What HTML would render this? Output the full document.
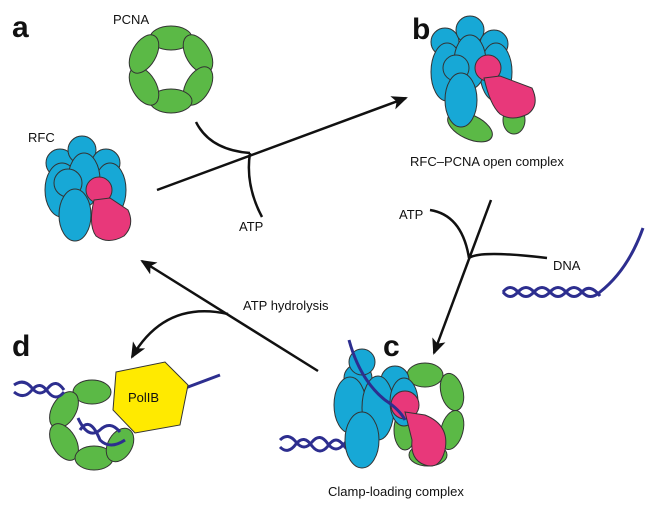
<!DOCTYPE html>
<html><head><meta charset="utf-8"><style>
html,body{margin:0;padding:0;background:#fff;}
svg{display:block}
text{font-family:"Liberation Sans",sans-serif;fill:#111}
.lab{font-size:13px}
.big{font-size:30px;font-weight:bold}
</style></head><body>
<svg width="650" height="510" viewBox="0 0 650 510" xmlns="http://www.w3.org/2000/svg">
<defs>
<marker id="ah2" markerWidth="16" markerHeight="14" refX="14" refY="7" orient="auto" markerUnits="userSpaceOnUse">
<path d="M0,0 L16,7 L0,14 L4,7 Z" fill="#111"/></marker>
</defs>
<g stroke="#333" stroke-width="1">
<g fill="#5bb946">
<ellipse cx="171" cy="38" rx="21" ry="12"/>
<ellipse cx="198" cy="54" rx="12" ry="21" transform="rotate(-30 198 54)"/>
<ellipse cx="198" cy="86" rx="12" ry="21" transform="rotate(30 198 86)"/>
<ellipse cx="171" cy="101" rx="21" ry="12"/>
<ellipse cx="144" cy="86" rx="12" ry="21" transform="rotate(-30 144 86)"/>
<ellipse cx="144" cy="54" rx="12" ry="21" transform="rotate(30 144 54)"/>
</g>
<g fill="#17a8d6">
<circle cx="60" cy="163" r="14"/><circle cx="82" cy="150" r="14"/><circle cx="106" cy="163" r="14"/>
<ellipse cx="62" cy="190" rx="17" ry="27"/>
<ellipse cx="110" cy="190" rx="16" ry="27"/>
<ellipse cx="84" cy="180" rx="16" ry="27"/>
<circle cx="68" cy="183" r="14"/>
<ellipse cx="75" cy="215" rx="16" ry="26"/>
</g>
<g fill="#e8387a">
<circle cx="99" cy="190" r="13"/>
<path d="M94,200 L110,198 L128,210 Q135,225 124,236 Q108,245 96,236 Q88,225 94,200 Z"/>
</g>
<g fill="#5bb946">
<ellipse cx="470" cy="127" rx="24" ry="12" transform="rotate(25 470 127)"/>
<ellipse cx="514" cy="120" rx="11" ry="14"/>
</g>
<g fill="#17a8d6">
<circle cx="445" cy="42" r="14"/><circle cx="470" cy="30" r="14"/><circle cx="494" cy="44" r="14"/>
<ellipse cx="447" cy="72" rx="16" ry="29"/>
<ellipse cx="496" cy="72" rx="16" ry="29"/>
<ellipse cx="470" cy="62" rx="16" ry="27"/>
<circle cx="456" cy="68" r="13"/>
<ellipse cx="461" cy="100" rx="16" ry="27"/>
</g>
<g fill="#e8387a">
<circle cx="488" cy="68" r="13"/>
<path d="M484,78 L500,76 L532,88 Q540,105 528,114 Q512,122 500,114 Q490,105 484,78 Z"/>
</g>
<g fill="#5bb946">
<ellipse cx="92" cy="392" rx="19" ry="12"/>
<ellipse cx="64" cy="410" rx="12" ry="20" transform="rotate(30 64 410)"/>
<ellipse cx="64" cy="442" rx="12" ry="20" transform="rotate(-30 64 442)"/>
<ellipse cx="94" cy="458" rx="19" ry="12"/>
<ellipse cx="120" cy="445" rx="12" ry="18" transform="rotate(30 120 445)"/>
</g>
</g>
<g fill="none" stroke="#2d2e8f" stroke-width="3">
<path d="M14,385 Q24,378 32,388 Q40,398 48,388 Q56,378 64,390"/>
<path d="M14,392 Q24,400 32,390 Q40,380 48,392 Q56,402 64,392"/>
<path d="M78,418 Q88,440 100,430 Q110,420 120,432"/>
<path d="M80,430 Q90,415 100,440 Q110,450 125,440"/>
<path d="M180,390 L220,375"/>
</g>
<path d="M116,372 L165,362 L188,385 L180,425 L135,433 L113,410 Z" fill="#ffea00" stroke="#333"/>
<text class="lab" x="128" y="402">PolIB</text>
<g fill="none" stroke="#2d2e8f" stroke-width="3">
<path d="M280,440 Q288,432 296,442 Q304,452 312,442 Q320,432 328,444 Q336,454 344,444 Q352,434 362,448"/>
<path d="M280,447 Q288,455 296,444 Q304,434 312,446 Q320,456 328,446 Q336,434 344,446 Q352,456 362,448"/>
</g>
<g stroke="#333" stroke-width="1">
<g fill="#5bb946">
<ellipse cx="425" cy="375" rx="18" ry="12"/>
<ellipse cx="452" cy="392" rx="11" ry="19" transform="rotate(-15 452 392)"/>
<ellipse cx="452" cy="430" rx="11" ry="20" transform="rotate(15 452 430)"/>
<ellipse cx="428" cy="455" rx="19" ry="11"/>
<ellipse cx="405" cy="430" rx="11" ry="20"/>
</g>
<g fill="#17a8d6">
<circle cx="358" cy="378" r="14"/><circle cx="362" cy="362" r="13"/><circle cx="395" cy="380" r="14"/>
<ellipse cx="350" cy="405" rx="16" ry="28"/>
<ellipse cx="378" cy="408" rx="16" ry="32"/>
<ellipse cx="404" cy="402" rx="14" ry="24"/>
<ellipse cx="362" cy="440" rx="17" ry="28"/>
</g>
<g fill="#e8387a">
<circle cx="405" cy="405" r="14"/>
<path d="M405,412 L425,415 Q450,425 445,450 Q440,470 425,465 Q410,460 412,440 Z"/>
</g>
</g>
<path d="M349,340 Q360,380 385,400 Q400,410 405,420" fill="none" stroke="#2d2e8f" stroke-width="3"/>
<g fill="none" stroke="#2d2e8f" stroke-width="3">
<path d="M503,292 Q510,283 518,292 Q526,301 534,292 Q542,283 550,292 Q558,301 566,292 Q574,283 582,292 Q590,301 600,292 Q628,270 643,228"/>
<path d="M503,292 Q510,301 518,292 Q526,283 534,292 Q542,301 550,292 Q558,283 566,292 Q574,301 582,292 Q590,283 600,296"/>
</g>
<g fill="none" stroke="#111" stroke-width="2.5">
<path d="M157,190 L406,98" marker-end="url(#ah2)"/>
<path d="M196,122 Q210,150 250,153"/>
<path d="M262,217 Q245,185 250,153"/>
<path d="M491,200 L434,353" marker-end="url(#ah2)"/>
<path d="M430,210 Q462,215 469,258"/>
<path d="M469,258 Q480,250 547,258"/>
<path d="M318,371 L142,261" marker-end="url(#ah2)"/>
<path d="M228,314 Q165,300 132,357" marker-end="url(#ah2)"/>
</g>
<text class="big" x="12" y="37">a</text>
<text class="big" x="412" y="39">b</text>
<text class="big" x="383" y="356">c</text>
<text class="big" x="12" y="356">d</text>
<text class="lab" x="113" y="24">PCNA</text>
<text class="lab" x="28" y="142">RFC</text>
<text class="lab" x="239" y="231">ATP</text>
<text class="lab" x="410" y="166">RFC–PCNA open complex</text>
<text class="lab" x="399" y="219">ATP</text>
<text class="lab" x="553" y="270">DNA</text>
<text class="lab" x="243" y="310">ATP hydrolysis</text>
<text class="lab" x="328" y="496">Clamp-loading complex</text>
</svg>
</body></html>
